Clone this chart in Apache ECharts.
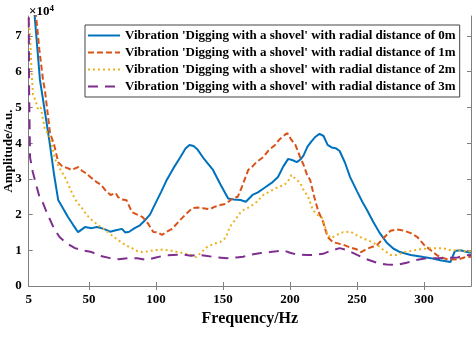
<!DOCTYPE html>
<html>
<head>
<meta charset="utf-8">
<script src="https://cdn.jsdelivr.net/npm/echarts@6/dist/echarts.min.js"></script>
<style>
  html, body { margin: 0; padding: 0; background: #fff; }
  #chart { width: 474px; height: 353px; }
</style>
</head>
<body>
<div id="chart"></div>
<script>
// amplitude values in units of 10^4 (axis shows x10^4)
var freq0m = [5, 9.7, 13.4, 17, 20.5, 24, 27, 31, 34.3, 38, 41.8, 43, 47, 52, 56, 61, 65.7, 70, 74.6, 77, 80, 84, 88, 92, 95.5, 99, 104, 108, 113, 118, 122, 125, 128, 131, 136, 142.5, 148, 153.8, 158, 163, 167, 172, 176, 181, 187, 191, 195, 198.6, 202, 205, 208, 210, 213, 216, 219, 222, 225, 228, 231, 234, 237, 241, 244.8, 250, 254, 257.4, 262, 267, 272, 277, 282, 290, 299.6, 305, 312, 319.6, 321, 323, 327, 332, 335];
var amp0m = [9.8, 7.45, 5.77, 4.9, 4.05, 3.1, 2.41, 2.15, 1.93, 1.72, 1.51, 1.52, 1.65, 1.62, 1.65, 1.6, 1.52, 1.56, 1.6, 1.5, 1.52, 1.62, 1.7, 1.85, 2.0, 2.27, 2.65, 2.97, 3.3, 3.6, 3.85, 3.95, 3.92, 3.82, 3.55, 3.25, 2.85, 2.45, 2.42, 2.41, 2.36, 2.55, 2.62, 2.75, 2.91, 3.05, 3.35, 3.56, 3.52, 3.47, 3.55, 3.65, 3.9, 4.05, 4.18, 4.26, 4.2, 3.95, 3.88, 3.86, 3.78, 3.45, 3.05, 2.65, 2.35, 2.13, 1.8, 1.48, 1.22, 1.05, 0.95, 0.87, 0.81, 0.78, 0.72, 0.67, 0.7, 0.98, 1.0, 0.95, 0.93];

var freq1m = [5, 10.4, 13, 15.7, 17.2, 20.9, 24, 27, 30, 34, 37, 41.8, 45, 48, 52, 56, 59, 62, 66, 70, 71.6, 75, 78, 82, 86, 90, 94, 98, 101, 104.5, 108, 112, 118, 122, 127, 131, 135, 140, 144, 148, 152, 157.5, 161, 164, 168.8, 172, 175, 180, 184, 188.8, 192, 196, 198, 201, 204, 207.5, 210, 212.7, 215, 218, 221, 224.6, 228, 232, 235, 240, 244.8, 250, 253, 258, 265, 270, 275, 280, 285, 290, 295, 300, 305, 310, 317, 325, 330, 335];
var amp1m = [9.2, 7.6, 6.6, 5.77, 5.45, 4.28, 3.95, 3.47, 3.35, 3.3, 3.25, 3.33, 3.22, 3.15, 3.02, 2.9, 2.83, 2.69, 2.55, 2.6, 2.49, 2.42, 2.4, 2.07, 2.0, 1.93, 1.75, 1.51, 1.5, 1.43, 1.52, 1.6, 1.85, 2.0, 2.18, 2.2, 2.18, 2.15, 2.22, 2.27, 2.3, 2.46, 2.5, 2.77, 3.25, 3.35, 3.47, 3.61, 3.8, 3.95, 4.1, 4.23, 4.28, 4.09, 3.95, 3.61, 3.4, 3.11, 2.97, 2.5, 2.1, 1.8, 1.37, 1.23, 1.2, 1.15, 1.08, 1.02, 0.95, 1.05, 1.15, 1.35, 1.55, 1.58, 1.55, 1.48, 1.37, 1.15, 1.0, 0.85, 0.75, 0.74, 0.8, 0.82];

var freq2m = [5, 6, 7, 8.2, 10, 12, 14, 15.7, 17, 20.9, 24.6, 28, 32, 35, 38, 41, 44.8, 48, 52, 57, 62, 67, 71.6, 77, 82, 86, 89.6, 94, 98, 104, 110, 115, 120, 125, 130, 134, 138, 143, 147.8, 152, 155, 158, 162.6, 166, 170, 175, 180, 185, 190, 195, 198, 201, 204, 207.5, 210, 213.5, 217, 220, 224, 227.5, 230, 232, 236, 239.6, 245, 250, 254, 260, 265, 270, 275, 280, 285, 290, 297, 305, 310, 314, 320, 326, 332, 335];
var amp2m = [7.5, 7.0, 6.1, 5.35, 5.2, 4.95, 5.0, 4.65, 4.4, 4.17, 3.55, 3.3, 3.05, 2.8, 2.55, 2.35, 2.18, 2.0, 1.85, 1.7, 1.57, 1.42, 1.29, 1.15, 1.06, 0.98, 0.95, 0.97, 1.0, 1.02, 1.0, 0.96, 0.92, 0.88, 0.81, 0.95, 1.09, 1.18, 1.23, 1.35, 1.65, 1.8, 2.04, 2.15, 2.21, 2.35, 2.55, 2.65, 2.75, 2.82, 2.9, 3.11, 3.0, 2.89, 2.69, 2.5, 2.13, 2.0, 1.9, 1.5, 1.35, 1.37, 1.45, 1.51, 1.52, 1.42, 1.34, 1.25, 1.15, 1.0, 0.87, 0.87, 0.95, 0.98, 1.03, 1.06, 1.06, 1.06, 1.0, 1.0, 0.97, 0.97];

var freq3m = [5, 5.3, 6, 8, 11, 13, 15.7, 18, 21, 24, 28, 33, 39.5, 45, 52, 58, 65.7, 72, 79, 86, 93, 100, 106, 112.6, 120, 126, 130.6, 137, 145, 153, 160, 165, 170, 177, 185, 190, 195, 200, 205, 212.7, 218, 224.6, 230, 237, 243, 250, 257, 265, 272, 280, 287, 294, 302, 310, 318, 325, 330, 335];
var amp3m = [8.0, 5.5, 3.6, 3.2, 2.77, 2.5, 2.32, 2.1, 1.85, 1.6, 1.37, 1.2, 1.06, 1.0, 0.95, 0.85, 0.78, 0.75, 0.78, 0.78, 0.73, 0.8, 0.85, 0.87, 0.88, 0.85, 0.87, 0.85, 0.8, 0.78, 0.8, 0.82, 0.87, 0.92, 0.95, 0.97, 1.0, 0.93, 0.88, 0.87, 0.87, 0.9, 0.98, 1.06, 1.0, 0.87, 0.75, 0.65, 0.6, 0.59, 0.65, 0.73, 0.78, 0.78, 0.79, 0.8, 0.85, 0.87];

var xTicks = [5, 50, 100, 150, 200, 250, 300];
var yTicks = [0, 1, 2, 3, 4, 5, 6, 7];

var seriesNames = [
  "Vibration 'Digging with a shovel' with radial distance of 0m",
  "Vibration 'Digging with a shovel' with radial distance of 1m",
  "Vibration 'Digging with a shovel' with radial distance of 2m",
  "Vibration 'Digging with a shovel' with radial distance of 3m"
];

function pairs(xs, ys) {
  return xs.map(function (x, i) { return [x, ys[i]]; });
}

var serifFont = "'Liberation Serif', 'Times New Roman', serif";
var axisColor = '#808080';

function lineSeries(name, data, color, type) {
  return {
    name: name,
    type: 'line',
    data: data,
    symbol: 'none',
    clip: true,
    lineStyle: { color: color, width: 2, type: type },
    itemStyle: { color: color },
    z: 3
  };
}

var chart = echarts.init(document.getElementById('chart'), null, { renderer: 'canvas' });
chart.setOption({
  animation: false,
  backgroundColor: '#fff',
  grid: { left: 28.7, right: 3, top: 16, bottom: 67, outerBoundsMode: 'none', containLabel: false },
  legend: {
    data: seriesNames,
    orient: 'vertical',
    left: 85,
    top: 25,
    itemWidth: 32,
    itemHeight: 13,
    itemGap: 4,
    padding: [4, 4, 4, 2],
    backgroundColor: '#fff',
    borderColor: '#444',
    borderWidth: 1,
    borderRadius: 0,
    itemStyle: { opacity: 0 },
    textStyle: { fontFamily: serifFont, fontWeight: 'bold', fontSize: 13, color: '#000' }
  },
  graphic: [{
    type: 'text',
    left: 29,
    top: 4,
    style: {
      text: '{a|\u00d710}{b|4}',
      rich: {
        a: { fontFamily: serifFont, fontSize: 13, fontWeight: 'bold', fill: '#000' },
        b: { fontFamily: serifFont, fontSize: 9, fontWeight: 'bold', fill: '#000', verticalAlign: 'top', padding: [0, 0, 6, 0] }
      }
    }
  }],
  xAxis: [
    {
      type: 'value',
      min: 5,
      max: 335,
      position: 'bottom',
      axisLine: { show: true, lineStyle: { color: axisColor } },
      axisTick: { inside: true, length: 4, customValues: xTicks, lineStyle: { color: axisColor } },
      axisLabel: {
        customValues: xTicks, margin: 7,
        fontFamily: serifFont, fontWeight: 'bold', fontSize: 13, color: '#000'
      },
      splitLine: { show: false },
      name: 'Frequency/Hz',
      nameLocation: 'middle',
      nameGap: 23,
      nameTextStyle: { fontFamily: serifFont, fontWeight: 'bold', fontSize: 16, color: '#000' }
    },
    {
      type: 'value',
      min: 5,
      max: 335,
      position: 'top',
      axisLine: { show: true, lineStyle: { color: axisColor } },
      axisTick: { inside: true, length: 4, customValues: xTicks.slice(1), lineStyle: { color: axisColor } },
      axisLabel: { show: false },
      splitLine: { show: false }
    }
  ],
  yAxis: [
    {
      type: 'value',
      min: 0,
      max: 7.56,
      position: 'left',
      axisLine: { show: true, lineStyle: { color: axisColor } },
      axisTick: { inside: true, length: 4, customValues: yTicks, lineStyle: { color: axisColor } },
      axisLabel: {
        customValues: yTicks, margin: 7,
        fontFamily: serifFont, fontWeight: 'bold', fontSize: 13, color: '#000'
      },
      splitLine: { show: false },
      name: 'Amplitude/a.u.',
      nameLocation: 'middle',
      nameMoveOverlap: false,
      nameGap: 14,
      nameTextStyle: { fontFamily: serifFont, fontWeight: 'bold', fontSize: 13, color: '#000' }
    },
    {
      type: 'value',
      min: 0,
      max: 7.56,
      position: 'right',
      axisLine: { show: true, lineStyle: { color: axisColor } },
      axisTick: { inside: true, length: 4, customValues: yTicks.slice(1), lineStyle: { color: axisColor } },
      axisLabel: { show: false },
      splitLine: { show: false }
    }
  ],
  series: [
    lineSeries(seriesNames[0], pairs(freq0m, amp0m), '#0072BD', 'solid'),
    lineSeries(seriesNames[1], pairs(freq1m, amp1m), '#D95319', [6, 3]),
    lineSeries(seriesNames[2], pairs(freq2m, amp2m), '#EDB120', [2, 3]),
    lineSeries(seriesNames[3], pairs(freq3m, amp3m), '#7E2F8E', [10, 7])
  ]
});
</script>
</body>
</html>
